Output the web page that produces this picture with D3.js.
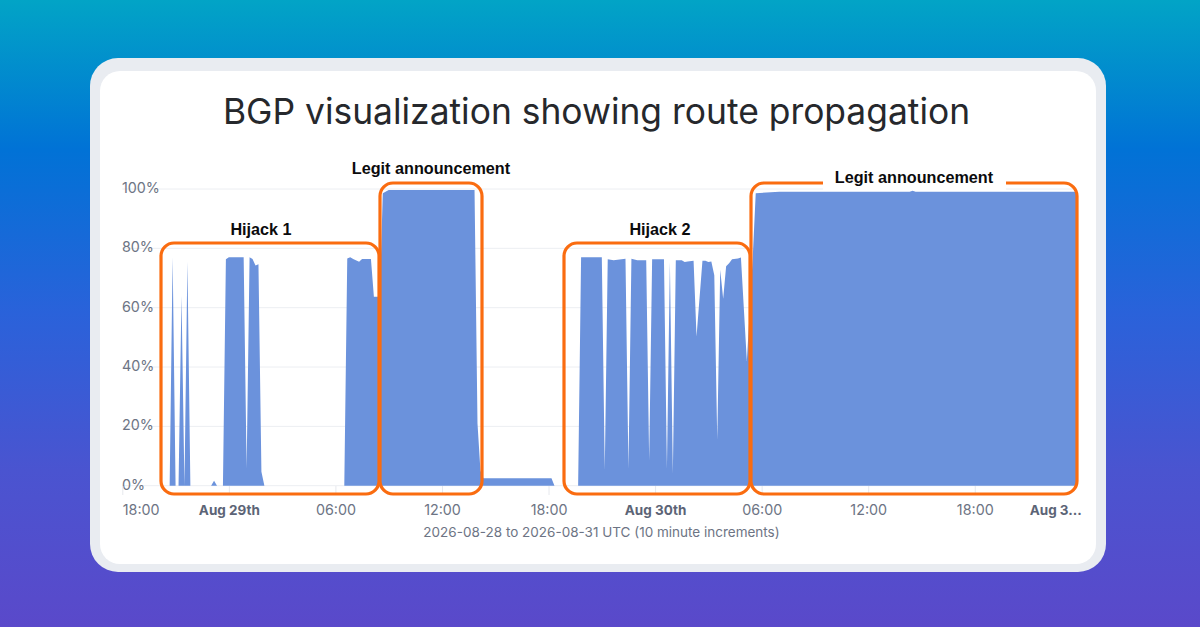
<!DOCTYPE html>
<html><head><meta charset="utf-8">
<script src="https://cdnjs.cloudflare.com/ajax/libs/d3/7.8.5/d3.min.js"></script>
<style>html,body{margin:0;padding:0;background:#fff}svg{display:block}</style>
</head><body><svg id="c" width="1200" height="627"></svg>
<script>
const title = "BGP visualization showing route propagation";
const subtitle = "2026-08-28 to 2026-08-31 UTC (10 minute increments)";
const yTicks = [0,20,40,60,80,100];
const tickSteps = [0,36,72,108,144,180,216,252,288,324];
const tickLabels = ["18:00","Aug 29th","06:00","12:00","18:00","Aug 30th","06:00","12:00","18:00","Aug 3..."];
// sample index in 10 minute steps since 2026-08-28 18:00 UTC
const steps = [16,17,18,19,20,21,22,23,
 30,31,32,34,35,36,41,42,43,44,45,46,47,48,
 75,76,77,78,80,81,84,85,87,
 88,90,119,120,121,122,145,146,
 154,155,162,163,164,166,168,170,171,172,174,177,178,179,183,184,185,186,187,189,190,191,193,194,196,197,198,199,200,201,202,203,204,205,206,208,209,211,213,
 214,222,266,267,268,431];
const shares = [0,77,0,0,64,0,75.5,0,
 0,1.7,0,0,76.3,77,77,5.8,77,76.4,74.2,74.6,4.7,0,
 0,76.6,77,76.4,75.5,76.4,76.4,63.7,63.7,
 98.6,99.7,99.7,21,5,2.5,2.5,0,
 0,77,77,5.2,76.3,76,76.2,76.5,5.7,76.5,76,76,8.5,76.3,76.3,5.7,75.4,4,76,76,75.4,75.6,75.8,50.3,75.8,75.8,75.4,75.6,70.9,15.5,72.8,63,74,75,76.3,76.6,76.9,42,77.2,
 98.6,99.1,99.1,99.4,99.1,99.1];
const calloutNames = ["Hijack 1","Legit announcement","Hijack 2","Legit announcement"];

const svg = d3.select("#c");
const defs = svg.append("defs");
const g = defs.append("linearGradient").attr("id","bg").attr("x1",0).attr("x2",0).attr("y1",0).attr("y2",1);
[[0,"#02a4c6"],[0.24,"#0172d6"],[0.5,"#2a62da"],[0.75,"#4a54d0"],[1,"#5a49ca"]].forEach(s=>g.append("stop").attr("offset",s[0]).attr("stop-color",s[1]));
svg.append("rect").attr("width",1200).attr("height",627).attr("fill","url(#bg)");
svg.append("rect").attr("x",90).attr("y",58).attr("width",1016).attr("height",514).attr("rx",28).attr("fill","#e9ecf1");
svg.append("rect").attr("x",100).attr("y",71).attr("width",996).attr("height",493).attr("rx",20).attr("fill","#fff");
const F = "Inter, 'Noto Sans', sans-serif";
svg.append("text").attr("x",596.5).attr("y",124).attr("text-anchor","middle").attr("font-family",F).attr("font-size",35.4).attr("fill","#26282c").text(title);

const x = d3.scaleLinear().domain([0,432]).range([122.3,1401]);
const y = d3.scaleLinear().domain([0,100]).range([485.7,189]);

svg.append("g").selectAll("line").data(yTicks).join("line")
 .attr("x1",122.3).attr("x2",1076).attr("y1",d=>y(d)).attr("y2",d=>y(d)).attr("stroke","#eceef2").attr("stroke-width",1);
svg.append("g").selectAll("text").data(yTicks).join("text")
 .attr("x",122).attr("y",d=>y(d)+4).attr("font-family",F).attr("font-size",14.3).attr("fill","#6d7484").text(d=>d+"%");

defs.append("clipPath").attr("id","plot").append("rect").attr("x",122).attr("y",180).attr("width",954).attr("height",306);
const area = d3.area().x(d=>x(d[0])).y0(y(0)).y1(d=>y(d[1]));
svg.append("path").attr("clip-path","url(#plot)").attr("d",area(d3.zip(steps,shares))).attr("fill","#6b92dc");

const axis = d3.axisBottom(x).tickValues(tickSteps).tickSize(0).tickPadding(0).tickFormat((d,i)=>tickLabels[i]);
const ax = svg.append("g").attr("transform","translate(0,486)").call(axis);
ax.select(".domain").remove();
ax.selectAll(".tick line").remove();
ax.selectAll(".tick").filter((d,i)=>i<9).append("line").attr("y1",0).attr("y2",9).attr("stroke","#e6e8ed");
ax.selectAll(".tick text").attr("y",28.5).attr("dy",0).attr("font-family",F)
 .attr("font-size",(d,i)=>tickLabels[i].startsWith("Aug")?13.5:14.3)
 .attr("font-weight",(d,i)=>tickLabels[i].startsWith("Aug")?700:400)
 .attr("fill",(d,i)=>tickLabels[i].startsWith("Aug")?"#5c6476":"#6d7484")
 .attr("text-anchor",(d,i)=>i===0?"start":(i===9?"end":"middle"));
svg.append("text").attr("x",601.5).attr("y",537).attr("text-anchor","middle").attr("font-family",F).attr("font-size",13.5).attr("fill","#6d7484").text(subtitle);

const boxes = [[161,243,218,251],[380,183,102,311],[564,243,186,251],[751,183,326,311]];
svg.append("g").selectAll("rect").data(boxes).join("rect")
 .attr("x",d=>d[0]).attr("y",d=>d[1]).attr("width",d=>d[2]).attr("height",d=>d[3]).attr("rx",13)
 .attr("fill","none").attr("stroke","#fa6c10").attr("stroke-width",3.2);
svg.append("rect").attr("x",823).attr("y",176).attr("width",183).attr("height",14).attr("fill","#fff");
const labelX = [261,431,660,914], labelY = [235,174,235,183];
svg.append("g").selectAll("text").data(calloutNames).join("text")
 .attr("x",(d,i)=>labelX[i]).attr("y",(d,i)=>labelY[i]).attr("text-anchor","middle")
 .attr("font-family","'Liberation Sans', Arial, sans-serif").attr("font-weight",700).attr("font-size",16.2).attr("fill","#0b0b0d").text(d=>d);
</script></body></html>
